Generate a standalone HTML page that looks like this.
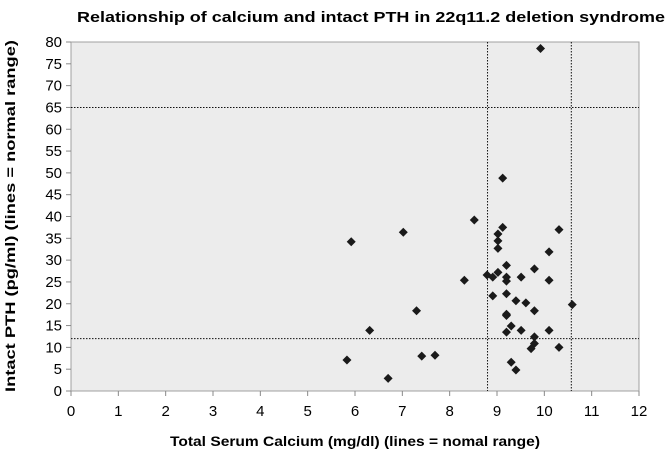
<!DOCTYPE html>
<html><head><meta charset="utf-8"><style>
html,body{margin:0;padding:0;background:#fff;}
svg{display:block;font-family:"Liberation Sans",Arial,sans-serif;}
</style></head><body>
<svg id="chart" width="667" height="452" viewBox="0 0 667 452" xmlns="http://www.w3.org/2000/svg">
<text x="77" y="22" font-size="15" font-weight="bold" textLength="588" lengthAdjust="spacingAndGlyphs">Relationship of calcium and intact PTH in 22q11.2 deletion syndrome</text>
<rect x="71" y="42" width="568" height="349" fill="#ececec" stroke="#a0a0a0" stroke-width="1"/>
<g id="axes"></g>
<g id="lines"></g>
<g id="points"></g>
<text x="355" y="446" font-size="14" font-weight="bold" text-anchor="middle" textLength="370" lengthAdjust="spacingAndGlyphs">Total Serum Calcium (mg/dl) (lines = nomal range)</text>
<text transform="translate(15,216) rotate(-90)" font-size="14" font-weight="bold" text-anchor="middle" textLength="352" lengthAdjust="spacingAndGlyphs">Intact PTH (pg/ml) (lines  = normal range)</text>
</svg>
<script>
const calcium = [9.92,9.12,8.52,7.02,5.92,9.12,10.31,9.02,9.02,9.02,10.10,9.20,9.79,9.02,8.79,8.91,9.20,9.20,9.51,10.10,8.31,8.91,9.20,9.40,9.61,9.79,10.59,7.30,9.20,9.20,9.30,9.20,9.51,10.10,6.31,9.79,9.79,9.72,10.31,5.83,7.41,7.69,9.30,9.40,6.70];
const pth = [78.5,48.8,39.2,36.4,34.2,37.5,37.0,36.0,34.4,32.7,31.9,28.8,28.0,27.2,26.6,26.1,26.1,25.2,26.1,25.4,25.4,21.8,22.3,20.7,20.2,18.4,19.8,18.4,17.6,17.3,14.9,13.5,13.9,13.9,13.9,12.4,10.9,9.7,10.0,7.1,8.0,8.2,6.6,4.8,2.9];
const xTicks = [0,1,2,3,4,5,6,7,8,9,10,11,12];
const yTicks = [0,5,10,15,20,25,30,35,40,45,50,55,60,65,70,75,80];
const calciumRange = [8.8,10.57];
const pthRange = [12,65];

const NS="http://www.w3.org/2000/svg";
const X0=71,X1=639,Y0=391,Y1=42;
const sx=v=>X0+(v-0)/(12-0)*(X1-X0);
const sy=v=>Y0-(v-0)/(80-0)*(Y0-Y1);
function mk(tag,attrs,parent){const e=document.createElementNS(NS,tag);for(const k in attrs)e.setAttribute(k,attrs[k]);parent.appendChild(e);return e;}
const axes=document.getElementById('axes'),lines=document.getElementById('lines'),pts=document.getElementById('points');
xTicks.forEach(t=>{
  const l=mk('line',{x1:sx(t),x2:sx(t),y1:Y0,y2:Y0+5,stroke:'#888'},axes);
  
  
  const tx=mk('text',{x:sx(t),y:Y0+25,'font-size':15,'text-anchor':'middle'},axes);
  tx.textContent=t;
  
  
});
yTicks.forEach(t=>{
  const l=mk('line',{x1:X0-5,x2:X0,y1:sy(t),y2:sy(t),stroke:'#888'},axes);
  
  
  const tx=mk('text',{x:X0-9,y:sy(t)+5,'font-size':15,'text-anchor':'end'},axes);
  tx.textContent=t;
  
  
});
calciumRange.forEach(v=>{
  const l=mk('line',{x1:sx(v),x2:sx(v),y1:Y1,y2:Y0,stroke:'#111','stroke-width':1,'stroke-dasharray':'1.5,1.5'},lines);
  
  
});
pthRange.forEach(v=>{
  const l=mk('line',{x1:X0,x2:X1,y1:sy(v),y2:sy(v),stroke:'#111','stroke-width':1,'stroke-dasharray':'1.5,1.5'},lines);
  
  
});
calcium.forEach((c,i)=>{
  const x=sx(c),y=sy(pth[i]),r=4.5;
  const p=mk('polygon',{points:`${x},${y-r} ${x+r},${y} ${x},${y+r} ${x-r},${y}`,fill:'#1a1a1a'},pts);
  
  
});
</script>
</body></html>
